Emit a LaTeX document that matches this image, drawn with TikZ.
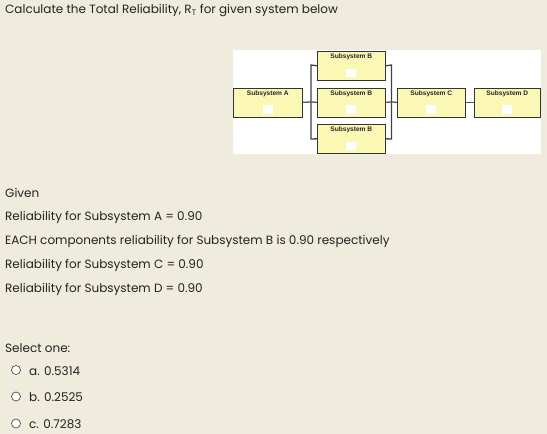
\documentclass[tikz,border=0pt]{standalone}
\usepackage{fontspec}
\setmainfont{Poppins}
\newfontfamily\boxfont{Liberation Sans}
\definecolor{bg}{HTML}{F0ECDD}
\definecolor{txt}{HTML}{222222}
\definecolor{boxfill}{HTML}{FBF7B4}
\definecolor{wire}{HTML}{555555}
\begin{document}
\begin{tikzpicture}[x=1pt,y=-1pt,
  line/.style={anchor=west,inner sep=0pt,text=txt,font=\fontsize{12}{13}\selectfont},
  sub/.style={draw=black!80,line width=0.6pt,fill=boxfill,minimum height=29pt,inner sep=0pt},
  sublabel/.style={font=\boxfont\bfseries\fontsize{6.6}{7}\selectfont,text=black!85,inner sep=0pt},
  blank/.style={fill=white,minimum width=10pt,minimum height=8.5pt,inner sep=0pt},
  wirestyle/.style={draw=wire,line width=1.3pt},
  radio/.style={circle,draw=txt!80,line width=0.7pt,fill=white,minimum size=9pt,inner sep=0pt}]
\useasboundingbox[fill=bg] (0,0) rectangle (547,434);
% title
\node[line] (title) at (5,11) {Calculate the Total Reliability, R\textsubscript{T} for given system below};
% diagram panel
\fill[white] (233,50) rectangle (541,154);
\node[sub,minimum width=69pt,anchor=north west] (A) at (233,87.5) {};
\node[sub,minimum width=68pt,anchor=north west] (B1) at (317,51) {};
\node[sub,minimum width=68pt,anchor=north west] (B2) at (317,87.5) {};
\node[sub,minimum width=68pt,anchor=north west] (B3) at (317,124) {};
\node[sub,minimum width=68pt,anchor=north west] (C) at (397,87.5) {};
\node[sub,minimum width=66pt,anchor=north west] (D) at (474,87.5) {};
\foreach \n/\t in {A/Subsystem A,B1/Subsystem B,B2/Subsystem B,B3/Subsystem B,C/Subsystem C,D/Subsystem D}{
  \node[sublabel] (\n-lab) at ([yshift=-6pt]\n.north) {\t};
  \node[blank,anchor=south] (\n-img) at ([yshift=3pt]\n.south) {};
}
\coordinate (busL-top) at (311,65);
\coordinate (busL-bot) at (311,139);
\coordinate (busL-mid) at (311,102);
\coordinate (busR-top) at (391.5,65);
\coordinate (busR-bot) at (391.5,139);
\coordinate (busR-mid) at (391.5,102);
\draw[wirestyle] (A.east) -- (busL-mid);
\draw[wirestyle,draw=black!75] (B1.west) -- (busL-top) -- (busL-bot) -- (B3.west);
\draw[wirestyle] (busL-mid) -- (B2.west);
\draw[wirestyle,draw=black!75] (B1.east) -- (busR-top) -- (busR-bot) -- (B3.east);
\draw[wirestyle] (B2.east) -- (busR-mid) -- (C.west);
\draw[wirestyle] (C.east) -- (D.west);
% given text
\node[line] (given) at (5,193) {Given};
\node[line] (rA) at (5,217) {Reliability for Subsystem A = 0.90};
\node[line] (rB) at (5,241) {EACH components reliability for Subsystem B is 0.90 respectively};
\node[line] (rC) at (5,265) {Reliability for Subsystem C = 0.90};
\node[line] (rD) at (5,289) {Reliability for Subsystem D = 0.90};
\node[line] (sel) at (5,348.5) {Select one:};
\node[radio] (ra) at (16,370) {};
\node[radio] (rb) at (16,396.5) {};
\node[radio] (rc) at (16,423.5) {};
\node[line] (oa) at (29,371) {a. 0.5314};
\node[line] (ob) at (29,397.5) {b. 0.2525};
\node[line] (oc) at (29,424.5) {c. 0.7283};
\end{tikzpicture}
\end{document}
